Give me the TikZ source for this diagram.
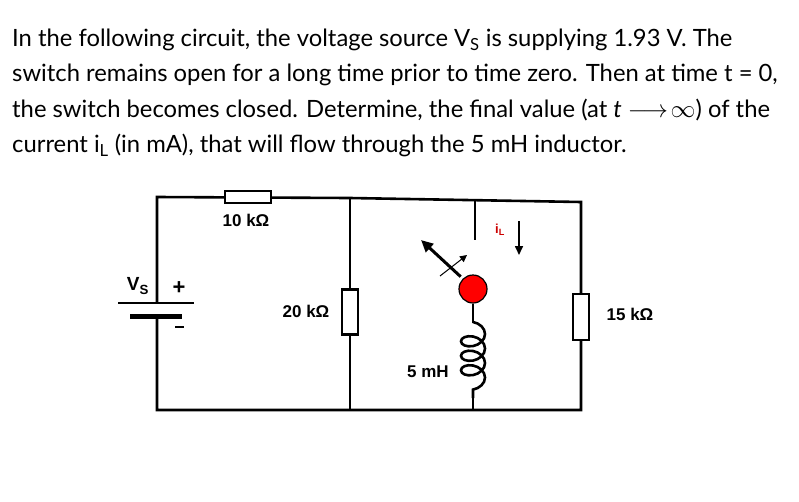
\documentclass[tikz,border=0pt]{standalone}
\usepackage{fontspec}
\setmainfont{Lato}
\newfontfamily\arl{Liberation Sans}
\usetikzlibrary{decorations.pathmorphing,arrows.meta}
\begin{document}
\begin{tikzpicture}[x=1pt,y=-1pt,
  w/.style={line width=2.6pt},
  res/.style={draw,line width=2.6pt,fill=white,inner sep=0pt},
  lbl/.style={font=\arl\bfseries\fontsize{17}{17}\selectfont,inner sep=1pt}]
\useasboundingbox (0,0) rectangle (799,501);
\node[anchor=west,align=left,font=\fontsize{23.8}{35.5}\selectfont,inner sep=0pt] (txt) at (12,93)
{In the following circuit, the voltage source V\textsubscript{S} is supplying 1.93 V. The\\
switch remains open for a long time prior to time zero. Then at time t = 0,\\
the switch becomes closed. Determine, the final value (at \textit{t} $\longrightarrow\!\infty$) of the\\
current i\textsubscript{L} (in mA), that will flow through the 5 mH inductor.};
% nodes
\coordinate (tl) at (157,197); \coordinate (bl) at (157,410);
\coordinate (tm) at (350,198); \coordinate (bm) at (350,410);
\coordinate (ts) at (475,200); \coordinate (se) at (475,240);
\coordinate (tr) at (581,202); \coordinate (br) at (581,410);
\coordinate (bs) at (473,410);
\coordinate (bp) at (157,303); \coordinate (bn) at (157,315);
% wires
\draw[w] (bp) -- (tl) -- (tm) -- (tr) -- (br) -- (bl) -- (bn);
\draw[w] (tm) -- (bm);
\draw[w] (ts) -- (se);
\node[res,minimum width=46pt,minimum height=12pt] (r10) at (248,197) {};
\node[res,minimum width=16pt,minimum height=45pt] (r20) at (350,312) {};
\node[res,minimum width=16pt,minimum height=46pt] (r15) at (581,317) {};
% battery
\draw[line width=1.8pt] (118,303) -- (194,303);
\draw[line width=5pt] (130,316) -- (182,316);
\node[lbl,font=\arl\bfseries\fontsize{19}{19}\selectfont] (vs) at (138,286) {V\textsubscript{S}};
\node[lbl,font=\arl\bfseries\fontsize{22}{22}\selectfont] (plus) at (179,288) {+};
\draw[line width=2pt] (175,327) -- (184,327);
% switch
\node[circle,fill=red,draw=black,line width=1.2pt,minimum size=28pt,inner sep=0pt] (sw) at (473,289) {};
\draw[line width=3pt,-{Triangle[length=12pt,width=11pt]}] (sw.north west) ++(-2,-2) -- (421,240);
\draw[line width=1pt,-{Triangle[length=7pt,width=7pt]}] (440,276) -- (467,255);
% inductor
\draw[w] (sw.south) -- (473,323);
\draw[w,decorate,decoration={coil,aspect=0.7,segment length=14.5pt,amplitude=12pt}] (473,322) -- (473,398);
\draw[w] (473,396) -- (bs);
\node[lbl] (l5) at (428,372) {5 mH};
\node[lbl] (l10) at (246,220) {10 kΩ};
\node[lbl] (l20) at (306,311) {20 kΩ};
\node[lbl] (l15) at (630,314) {15 kΩ};
\node[lbl,font=\arl\bfseries\fontsize{13}{13}\selectfont,text=red!80!black] (il) at (500,230) {i\textsubscript{L}};
\draw[line width=1.6pt,-{Triangle[length=9pt,width=8pt]}] (519,221) -- (519,255);
\end{tikzpicture}
\end{document}
